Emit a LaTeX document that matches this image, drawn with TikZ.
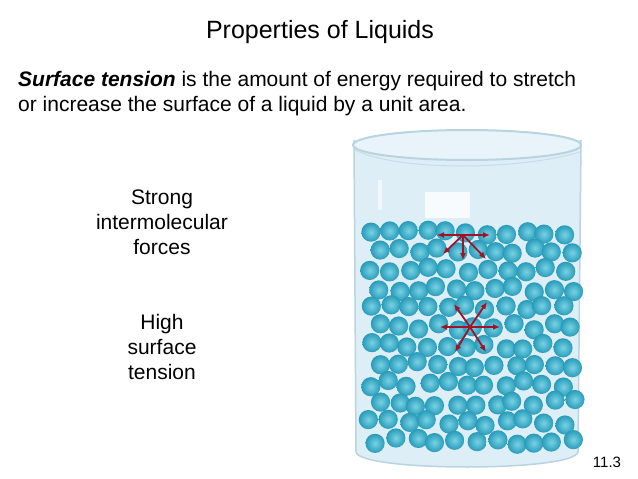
\documentclass[tikz,border=0pt]{standalone}
\usepackage{fontspec}
\setmainfont{Liberation Sans}
\usetikzlibrary{arrows.meta}
\definecolor{arrred}{RGB}{160,20,40}
\definecolor{ballin}{RGB}{120,210,228}
\definecolor{ballout}{RGB}{40,155,185}
\definecolor{glass}{RGB}{222,238,246}
\definecolor{rimfill}{RGB}{232,244,250}
\begin{document}
\begin{tikzpicture}[x=1pt,y=-1pt,
  txt/.style={font=\fontsize{21}{25}\selectfont, inner sep=0pt},
  lbl/.style={txt, align=center},
  arr/.style={-{Latex[length=7pt,width=6pt]}, draw=arrred, line width=1.8pt},
  ballstyle/.style={inner color=ballin, outer color=ballout, draw=none}]
\useasboundingbox (0,0) rectangle (638,479);
\node[txt, font=\fontsize{25}{28}\selectfont] (title) at (320,32) {Properties of Liquids};
\node[txt, anchor=base west] (p1) at (18,86) {\textbf{\textit{Surface tension}} is the amount of energy required to stretch};
\node[txt, anchor=base west] (p2) at (18,111) {or increase the surface of a liquid by a unit area.};
\node[lbl] (l1) at (162,222) {Strong\\intermolecular\\forces};
\node[lbl] (l2) at (162,347) {High\\surface\\tension};
\node[txt, font=\fontsize{15}{16}\selectfont] (num) at (607,462) {11.3};
% beaker
\fill[glass] (354,140) -- (356,452) .. controls (360,472) and (574,472) .. (578,452) -- (581,140) -- cycle;
\draw[cyan!40!gray!45, line width=1.5pt] (354,140) -- (356,452) .. controls (360,472) and (574,472) .. (578,452) -- (581,140);
\draw[cyan!40!gray!45, line width=2pt, fill=rimfill] (467,145) ellipse (114 and 15);
\draw[cyan!40!gray!35, line width=1pt] (355,150) .. controls (400,172) and (520,170) .. (580,152);
\fill[white,opacity=0.8] (425,192) rectangle (470,218);
\fill[white,opacity=0.6] (378,180) rectangle (382,210);
% balls
\pgfmathsetseed{11}
\foreach \r in {0,...,11}{
  \foreach \c in {0,...,10}{
    \pgfmathsetmacro{\xx}{369+\c*19.5+mod(\r,2)*9+rand*3}
    \pgfmathsetmacro{\yy}{232+\r*19+rand*3.5}
    \ifdim\xx pt<575pt
    \shade[ballstyle] (\xx,\yy) circle (9.6);
    \fi
  }
}
% arrows
\coordinate (t) at (463,235);
\draw[arr] (t) -- (437,235); \draw[arr] (t) -- (490,235);
\draw[arr] (t) -- (443,254); \draw[arr] (t) -- (463,260); \draw[arr] (t) -- (486,259);
\coordinate (m) at (470,327);
\draw[arr] (m) -- (440,327); \draw[arr] (m) -- (500,327);
\draw[arr] (m) -- (454,304); \draw[arr] (m) -- (487,302);
\draw[arr] (m) -- (455,352); \draw[arr] (m) -- (486,352);
\end{tikzpicture}
\end{document}
